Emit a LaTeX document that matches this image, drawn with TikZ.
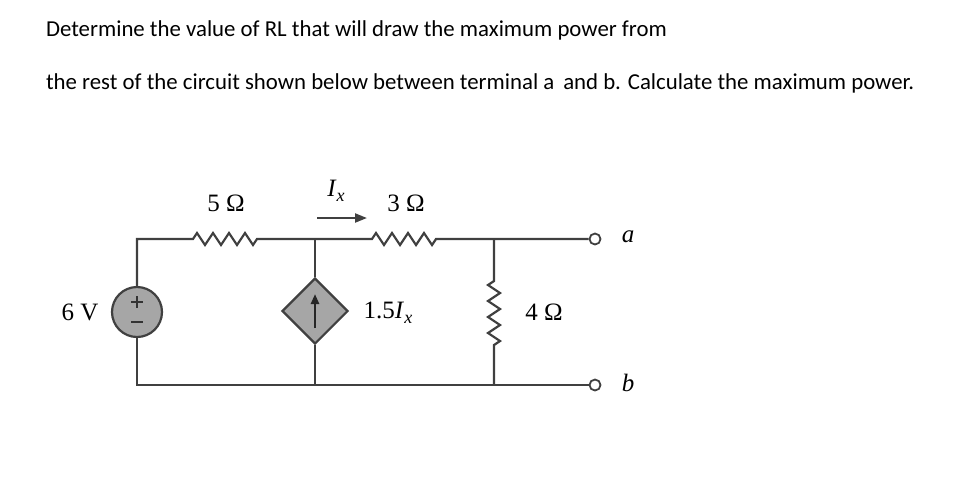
\documentclass[tikz,border=0pt]{standalone}
\usepackage{fontspec}
\setmainfont{Liberation Serif}
\newfontfamily\carlitofont{Carlito}
\usetikzlibrary{shapes.geometric,arrows.meta}
\newcommand{\Ixx}{\textit{I}\raisebox{-5pt}{\fontsize{18}{18}\selectfont\textit{x}}}
\begin{document}
\begin{tikzpicture}[x=1pt,y=-1pt,line width=2.2pt,
  wire/.style={draw=black!75},
  lbl/.style={font=\fontsize{25}{25}\selectfont},
  term/.style={circle,draw=black!75,fill=white,inner sep=0,minimum size=11pt,line width=1.8pt}]
\useasboundingbox (0,0) rectangle (971,483);
\node[anchor=base west,inner sep=0,font=\carlitofont\fontsize{22.8}{22.8}\selectfont] (t1) at (45,36) {Determine the value of RL that will draw the maximum power from};
\node[anchor=base west,inner sep=0,font=\carlitofont\fontsize{22.8}{22.8}\selectfont] (t2) at (45,89) {the rest of the circuit shown below between terminal a\, and b. Calculate the maximum power.};
% coordinates
\coordinate (tl) at (137,239); \coordinate (bl) at (137,385);
\coordinate (tm) at (315,239); \coordinate (bm) at (315,385);
\coordinate (tr) at (494,239); \coordinate (br) at (494,385);
\node[term] (a) at (595,239) {};
\node[term] (b) at (595,385) {};
\node[circle,draw=black!75,fill=black!35,minimum size=50pt,inner sep=0] (vs) at (137,312) {};
\draw[black!80,line width=1.8pt] (131,302)--(143,302) (137,296)--(137,308);
\draw[black!80,line width=1.8pt] (131,322)--(143,322);
\node[diamond,draw=black!75,fill=black!35,minimum width=66pt,minimum height=66pt,inner sep=0] (cs) at (315,311) {};
\draw[black!85,line width=2.4pt,-{Triangle[length=10pt,width=8pt]}] (315,328)--(315,294);
% wires
\draw[wire] (vs.north) |- (193,239) -- ++(4,-6) -- ++(8,12) -- ++(8,-12) -- ++(8,12) -- ++(8,-12) -- ++(8,12) -- ++(8,-12) -- ++(8,12) -- ++(4,-6) -- (tm)
 -- (372,239) -- ++(4,-6) -- ++(8,12) -- ++(8,-12) -- ++(8,12) -- ++(8,-12) -- ++(8,12) -- ++(8,-12) -- ++(8,12) -- ++(4,-6) -- (a.west);
\draw[wire] (vs.south) |- (b.west);
\draw[wire] (tm) -- (cs.north); \draw[wire] (cs.south) -- (bm);
\draw[wire] (tr) -- (494,281) -- ++(-6,4) -- ++(12,8) -- ++(-12,8) -- ++(12,8) -- ++(-12,8) -- ++(12,8) -- ++(-12,8) -- ++(12,8) -- ++(-6,4) -- (br);
\draw[black!75,line width=2.2pt,-{Triangle[length=12pt,width=9pt]}] (317,218)--(367,218);
% labels
\node[lbl] at (80,312) {6 V};
\node[lbl] at (226,203) {5 Ω};
\node[lbl] at (406,203) {3 Ω};
\node[lbl] at (336,191) {\Ixx};
\node[lbl] at (388,313) {1.5\Ixx};
\node[lbl] at (544,312) {4 Ω};
\node[lbl] at (628,237) {\textit{a}};
\node[lbl] at (628,383) {\textit{b}};
\end{tikzpicture}
\end{document}
